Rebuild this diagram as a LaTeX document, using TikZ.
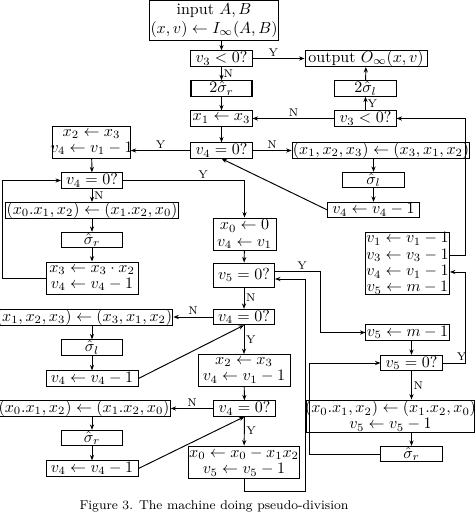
\documentclass[tikz,border=0pt]{standalone}
\usepackage{amsmath}
\usepackage{amssymb}
\usepackage{tikz}
\usetikzlibrary{arrows.meta,positioning}
\tikzset{
    %Define standard arrow tip
    >={Stealth[length=3.4pt,width=2.6pt]},
    %Define style for boxes
    testbox/.style={
           rectangle,
           draw=black, semithick,
           minimum width=38.2pt,
           minimum height=9.6pt,
           inner sep=0.5pt,
           text centered},
    stepbox/.style={
           rectangle,
           draw=black, semithick,
           minimum height=9.6pt,
           inner xsep=0.5pt,
           inner ysep=0pt,
           font=\fontsize{10}{10.2}\selectfont,
           align=center},
    % Define style for the Y and N marks
    answer/.style={
           font=\scriptsize,
           inner sep=1pt}
}

\begin{document}
\begin{tikzpicture}[->,x=0.625pt,y=-0.625pt,semithick]
\useasboundingbox (0,0) rectangle (474,512);
 %nodes
\node[stepbox, minimum width=76.25pt, minimum height=25pt, font=\normalsize](inp) at (214,20.5){input $A,B$\\$(x,v)\leftarrow I_\infty(A,B)$};
\node[testbox](d1) at (221.5,58.5){$v_3<0?$};
\node[stepbox, minimum width=76.25pt](out) at (366,58.5){output $O_\infty(x,v)$};
\node[testbox, thick](s1) at (221.5,88.5){$2\hat\sigma_r$};
\node[testbox](a1) at (221.5,118.5){$x_1\leftarrow x_3$};
\node[testbox](d2) at (365.5,118.5){$v_3<0?$};
\node[testbox](s2) at (365.5,88.5){$2\hat\sigma_l$};
\node[testbox](d3) at (221.5,150.5){$v_4=0?$};
\node[stepbox, inner xsep=-1.5pt, minimum height=20pt](a2) at (91.5,142){$x_2\leftarrow x_3$\\$v_4\leftarrow v_1-1$};
\node[stepbox, minimum width=105pt](r1) at (381,150.5){$(x_1,x_2,x_3)\leftarrow(x_3,x_1,x_2)$};
\node[testbox](sl1) at (373.5,180){$\hat\sigma_l$};
\node[stepbox, minimum width=57pt](dec1) at (373.5,210){$v_4\leftarrow v_4-1$};
\node[testbox](d4) at (92,180.5){$v_4=0?$};
\node[stepbox, minimum width=105pt](perm1) at (92,210.5){$(x_0.x_1,x_2)\leftarrow(x_1.x_2,x_0)$};
\node[testbox](sr1) at (92,240){$\hat\sigma_r$};
\node[stepbox, minimum width=57.5pt, minimum height=20pt](mul) at (92,278){$x_3\leftarrow x_3\cdot x_2$\\$v_4\leftarrow v_4-1$};
\node[stepbox, minimum width=39.4pt, minimum height=20pt](init) at (244.5,234){$x_0\leftarrow 0$\\$v_4\leftarrow v_1$};
\node[testbox, minimum height=15pt](d5) at (244,275){$v_5=0?$};
\node[testbox](d6) at (244,317){$v_4=0?$};
\node[stepbox, minimum width=105pt](r2) at (84,317){$(x_1,x_2,x_3)\leftarrow(x_3,x_1,x_2)$};
\node[testbox](sl2) at (92,347.5){$\hat\sigma_l$};
\node[stepbox, minimum width=57.5pt](dec2) at (92,378.5){$v_4\leftarrow v_4-1$};
\node[stepbox, minimum width=57.5pt, minimum height=20pt](a3) at (244,370.5){$x_2\leftarrow x_3$\\$v_4\leftarrow v_1-1$};
\node[testbox](d7) at (244.5,408.5){$v_4=0?$};
\node[stepbox, minimum width=105pt](perm2) at (84,408.5){$(x_0.x_1,x_2)\leftarrow(x_1.x_2,x_0)$};
\node[testbox](sr2) at (92,438){$\hat\sigma_r$};
\node[stepbox, minimum width=57.5pt](dec3) at (92,468.5){$v_4\leftarrow v_4-1$};
\node[stepbox, minimum width=66.25pt, minimum height=20pt](sub) at (244,462){$x_0\leftarrow x_0-x_1x_2$\\$v_5\leftarrow v_5-1$};
\node[stepbox, minimum width=52pt, minimum height=38pt](vbox) at (407.5,263.5){$v_1\leftarrow v_1-1$\\$v_3\leftarrow v_3-1$\\$v_4\leftarrow v_1-1$\\$v_5\leftarrow m-1$};
\node[stepbox, minimum width=52pt](v5m) at (407.5,332.5){$v_5\leftarrow m-1$};
\node[testbox](d8) at (411.5,363){$v_5=0?$};
\node[stepbox, inner xsep=-1pt, minimum height=20pt](perm3) at (390.5,416){$(x_0.x_1,x_2)\leftarrow(x_1.x_2,x_0)$\\$v_5\leftarrow v_5-1$};
\node[testbox](sr3) at (411.5,454){$\hat\sigma_r$};
\node[font=\footnotesize, anchor=base](cap) at (214,509){Figure 3. The machine doing pseudo-division};
 %turning points of the loops
\coordinate (leftrail) at (2.5,0);
\coordinate (ycol) at (320,0);
\coordinate (lowturn) at (305,491);
\coordinate (backcol) at (309,0);
\coordinate (rightrail) at (465,0);
\coordinate (d5out) at ([yshift=1.9pt]d5.east);
\coordinate (d5in) at ([yshift=-2.5pt]d5.east);
\coordinate (vout) at ([yshift=5.3pt]vbox.east);
\coordinate (vin) at ([yshift=-5.3pt]vbox.east);
 %straight arrows
\path[every node/.style={answer}]
    (d1.north |- inp.south) edge (d1)
    (d1) edge node[above, pos=0.4]{Y} (out)
    (d1) edge node[right]{N} (s1)
    (s1) edge (a1)
    (a1) edge (d3)
    (d2) edge node[right]{Y} (s2)
    (s2) edge (out)
    (d2) edge node[above]{N} (a1)
    (d3) edge node[above]{Y} (d3.west -| a2.east)
    (d3) edge node[above]{N} (r1)
    (sl1.north |- r1.south) edge (sl1)
    (sl1) edge (dec1)
    (dec1.west) edge (d3.south)
    (a2) edge (d4)
    (d4) edge node[right]{N} (perm1)
    (perm1) edge (sr1)
    (sr1) edge (mul)
    (init) edge (d5)
    (d5) edge node[right]{N} (d6)
    (d6) edge node[above]{N} (r2)
    (sl2.north |- r2.south) edge (sl2)
    (sl2) edge (dec2)
    (dec2.east) edge (d6.south)
    (d6) edge node[right]{Y} (a3)
    (a3) edge (d7)
    (d7) edge node[above]{N} (perm2)
    (sr2.north |- perm2.south) edge (sr2)
    (sr2) edge (dec3)
    (dec3.east) edge (d7.south)
    (d7) edge node[right]{Y} (sub)
    (d8.north |- v5m.south) edge (d8)
    (d8.south) edge node[right]{N} (d8.south |- perm3.north)
    (perm3.south -| sr3) edge (sr3);
 %bent arrows
\draw (mul.west) -- (mul.west -| leftrail) |- (d4.west);
\draw (d4.east) -| node[answer, above, pos=0.33]{Y} (init.north);
\draw (d5out) -- node[answer, above, pos=0.6]{Y} (d5out -| ycol) |- (v5m.west);
\draw (sub.south) |- (lowturn) |- (d5in);
\draw (d8.east) -- node[answer, above, pos=0.85]{Y} (d8.east -| rightrail) |- (vin);
\draw (vout) -- (vout -| rightrail) |- (d2.east);
\draw (sr3.west) -- (sr3.west -| backcol) |- (d8.west);
\end{tikzpicture}
\end{document}
